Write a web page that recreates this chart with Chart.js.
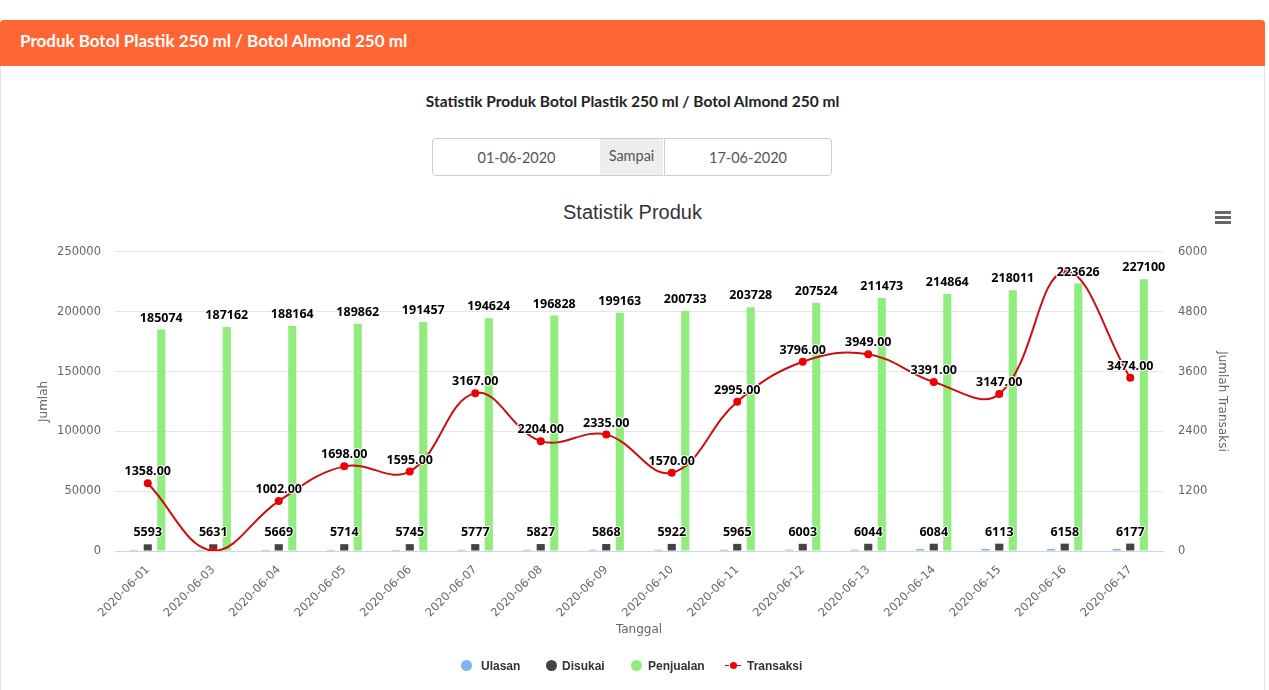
<!DOCTYPE html>
<html>
<head>
<meta charset="utf-8">
<title>Statistik Produk</title>
<script src="https://cdn.jsdelivr.net/npm/chart.js@4.4.1/dist/chart.umd.min.js"></script>
<style>
  body { margin: 0; background: #fff; font-family: Lato, sans-serif; }
  #page { position: relative; width: 1269px; height: 690px; overflow: hidden; }
  #card { position: absolute; left: 0; top: 20px; width: 1263px; height: 700px;
          border: 1px solid #e4e4e4; border-radius: 4px; }
  #head { position: absolute; left: 0; top: 20px; width: 1265px; height: 46px;
          background: #ff6633; border-radius: 4px 4px 0 0; color: #fff;
          font: bold 17px Lato, sans-serif; line-height: 46px; }
  #head span { position: absolute; left: 20px; top: -2px; }
  #sub { position: absolute; left: 0; width: 1265px; top: 92px; text-align: center;
         font: bold 15.5px Lato, sans-serif; color: #222; }
  .box { position: absolute; top: 138px; height: 36px; border: 1px solid #ccc;
         color: #555; font: 14.5px Lato, sans-serif; text-align: center; line-height: 38px; }
  #d1 { left: 432px; width: 167px; border-radius: 4px 0 0 4px; }
  #mid { left: 600px; width: 63px; background: #eee; border-left: 0; border-right: 0; line-height: 34px; }
  #d2 { left: 664px; width: 166px; border-radius: 0 4px 4px 0; }
  #ctitle { position: absolute; left: 0; width: 1265px; top: 201px; text-align: center;
            font: 20px "Liberation Sans Narrow", "Liberation Sans", sans-serif; color: #333; }
  .bar { position: absolute; left: 1215px; width: 16px; height: 3px; background: #666; }
  canvas { position: absolute; left: 0; top: 230px; }
  .lg { position: absolute; top: 659px; font: bold 12px "Liberation Sans", sans-serif; color: #333; }
  .dot { position: absolute; top: 660px; width: 11px; height: 11px; border-radius: 6px; }
</style>
</head>
<body>
<div id="page">
  <div id="card"></div>
  <div id="head"><span>Produk Botol Plastik 250 ml / Botol Almond 250 ml</span></div>
  <div id="sub">Statistik Produk Botol Plastik 250 ml / Botol Almond 250 ml</div>
  <div class="box" id="d1">01-06-2020</div>
  <div class="box" id="mid">Sampai</div>
  <div class="box" id="d2">17-06-2020</div>
  <div id="ctitle">Statistik Produk</div>
  <div class="bar" style="top:211px"></div>
  <div class="bar" style="top:216px"></div>
  <div class="bar" style="top:221px"></div>
  <canvas id="graph1" width="1269" height="460"></canvas>

  <div class="dot" style="left:461px;background:#7cb5ec"></div>
  <div class="lg" style="left:481px">Ulasan</div>
  <div class="dot" style="left:546px;background:#434348"></div>
  <div class="lg" style="left:562px">Disukai</div>
  <div class="dot" style="left:631px;background:#90ed7d"></div>
  <div class="lg" style="left:648px">Penjualan</div>
  <div style="position:absolute;left:725px;top:665px;width:4px;height:1px;background:#e00"></div>
  <div style="position:absolute;left:737px;top:665px;width:4px;height:1px;background:#e00"></div>
  <div class="dot" style="left:730px;top:662px;width:7px;height:7px;background:#e00"></div>
  <div class="lg" style="left:747px">Transaksi</div>
</div>

<script>
var categories = ['2020-06-01', '2020-06-03', '2020-06-04', '2020-06-05', '2020-06-06', '2020-06-07',
                  '2020-06-08', '2020-06-09', '2020-06-10', '2020-06-11', '2020-06-12', '2020-06-13',
                  '2020-06-14', '2020-06-15', '2020-06-16', '2020-06-17'];
var ulasan = [880, 900, 920, 940, 960, 980, 1000, 1020, 1050, 1080, 1100, 1130, 1600, 1650, 1700, 1750];
var disukai = [5593, 5631, 5669, 5714, 5745, 5777, 5827, 5868, 5922, 5965, 6003, 6044, 6084, 6113, 6158, 6177];
var penjualan = [185074, 187162, 188164, 189862, 191457, 194624, 196828, 199163, 200733, 203728,
                 207524, 211473, 214864, 218011, 223626, 227100];
var transaksi = [1358, 0, 1002, 1698, 1595, 3167, 2204, 2335, 1570, 2995, 3796, 3949, 3391, 3147, 5600, 3474];
var leftTicks = [0, 50000, 100000, 150000, 200000, 250000];
var rightTicks = [0, 1200, 2400, 3600, 4800, 6000];

// value labels above bars and points, skipped when they overlap (like the original)
var valueLabels = {
    id: 'valueLabels',
    afterDatasetsDraw: function (chart) {
        var ctx = chart.ctx;
        var boxes = [];
        ctx.save();
        ctx.font = 'bold 12.5px "Open Sans"';
        ctx.textAlign = 'center';
        ctx.textBaseline = 'middle';
        ctx.lineJoin = 'round';
        [2, 1, 3, 0].forEach(function (di) {
            var ds = chart.data.datasets[di];
            chart.getDatasetMeta(di).data.forEach(function (el, i) {
                var v = ds.data[i];
                var txt = di === 3 ? v.toFixed(2) : String(v);
                var w = ctx.measureText(txt).width;
                var x = el.x, y = el.y - 11.5;
                var b = { l: x - w / 2 - 1, r: x + w / 2 + 1, t: y - 7, b: y + 7 };
                var hit = boxes.some(function (o) {
                    return b.l < o.r && b.r > o.l && b.t < o.b && b.b > o.t;
                });
                if (hit) return;
                boxes.push(b);
                ctx.strokeStyle = '#fff';
                ctx.lineWidth = 2;
                ctx.strokeText(txt, x, y);
                ctx.fillStyle = '#000';
                ctx.fillText(txt, x, y);
            });
        });
        ctx.restore();
    }
};

function plain(v) { return String(v); }

Chart.defaults.font.family = '"DejaVu Sans"';
Chart.defaults.color = '#666';

var context = document.getElementById('graph1').getContext('2d');
var chart = new Chart(context, {
    type: 'bar',
    data: {
        labels: categories,
        datasets: [
            { label: 'Ulasan', data: ulasan, backgroundColor: '#7cb5ec', yAxisID: 'y', order: 1,
              categoryPercentage: 0.62, barPercentage: 0.6 },
            { label: 'Disukai', data: disukai, backgroundColor: '#434348', yAxisID: 'y', order: 1,
              categoryPercentage: 0.62, barPercentage: 0.6 },
            { label: 'Penjualan', data: penjualan, backgroundColor: '#90ed7d', yAxisID: 'y', order: 1,
              categoryPercentage: 0.62, barPercentage: 0.6 },
            { type: 'line', label: 'Transaksi', data: transaksi, yAxisID: 'y1', order: 0,
              borderColor: '#c81010', borderWidth: 2, tension: 0.4,
              pointRadius: 4, pointBackgroundColor: '#ee0000', pointBorderWidth: 0 }
        ]
    },
    options: {
        responsive: false,
        animation: false,
        devicePixelRatio: 1,
        layout: { padding: { left: 33, right: 36, top: 19, bottom: 49 } },
        plugins: { legend: { display: false }, tooltip: { enabled: false } },
        scales: {
            x: {
                grid: { display: false },
                border: { color: '#ccd6eb' },
                ticks: { autoSkip: false, minRotation: 45, maxRotation: 45, padding: 4,
                         font: { size: 11.5 }, color: '#666' },
                title: { display: true, text: 'Tanggal', font: { size: 12 }, color: '#666' },
                afterFit: function (s) { s.height = 90; }
            },
            y: {
                position: 'left',
                min: 0, max: 250000,
                afterBuildTicks: function (s) { s.ticks = leftTicks.map(function (v) { return { value: v }; }); },
                grid: { color: '#e6e6e6', drawTicks: false },
                border: { display: false },
                ticks: { padding: 14, font: { size: 11.5 }, color: '#666', callback: plain },
                title: { display: true, text: 'Jumlah', font: { size: 12 }, color: '#666' },
                afterFit: function (s) { s.width = 82; }
            },
            y1: {
                position: 'right',
                min: 0, max: 6000,
                afterBuildTicks: function (s) { s.ticks = rightTicks.map(function (v) { return { value: v }; }); },
                grid: { display: false, drawTicks: false },
                border: { display: false },
                ticks: { padding: 15, font: { size: 11.5 }, color: '#666', callback: plain },
                title: { display: true, text: 'Jumlah Transaksi', font: { size: 12 }, color: '#666' },
                afterFit: function (s) { s.width = 70; }
            }
        }
    },
    plugins: [valueLabels]
});
</script>
</body>
</html>
